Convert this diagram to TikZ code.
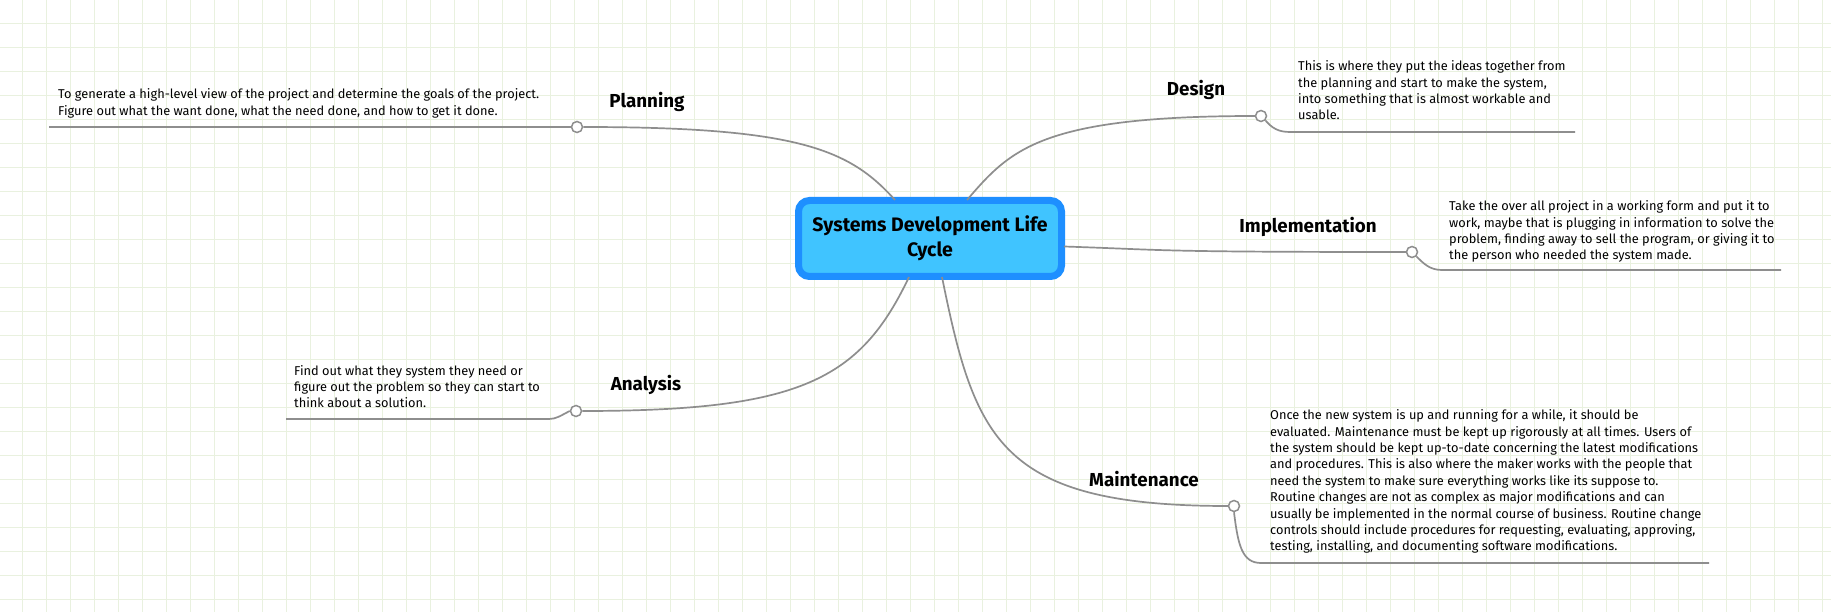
\documentclass[tikz,border=0pt]{standalone}
\usepackage{fontspec}
\setmainfont{Fira Sans}
\usetikzlibrary{calc}
\definecolor{linegray}{HTML}{8E8E8E}
\definecolor{gridc}{HTML}{E9F1DF}
\definecolor{bluedark}{HTML}{1E8FFF}
\definecolor{bluelight}{HTML}{40C4FF}
\begin{document}
\begin{tikzpicture}[x=1pt,y=-1pt,
  conn/.style={draw=linegray, line width=1.7pt},
  knob/.style={circle, draw=linegray, fill=white, line width=1.5pt, minimum size=11pt, inner sep=0pt},
  topic/.style={font=\fontsize{18.8}{22}\selectfont\bfseries, inner sep=0pt},
  note/.style={font=\fontsize{12.8}{16.4}\selectfont, align=left, inner sep=0pt, anchor=north west},
]
\useasboundingbox (0,0) rectangle (1831,612);
\fill[white] (0,0) rectangle (1831,612);
\foreach \i in {0,...,76} \draw[gridc, line width=1pt] ({22.7+24*\i},0) -- ++(0,612);
\foreach \j in {0,...,25} \draw[gridc, line width=1pt] (0,{23.3+24*\j}) -- ++(1831,0);

% central node
\node[draw=bluedark, line width=7pt, fill=bluelight, rounded corners=11pt,
      minimum width=263pt, minimum height=76pt, align=center, inner sep=0pt,
      font=\fontsize{19.5}{24.5}\selectfont\bfseries] (c) at (930,238.5)
      {Systems Development Life\\Cycle};

% knobs
\node[knob] (kp) at (577,127) {};
\node[knob] (kd) at (1261,116) {};
\node[knob] (ki) at (1412,252) {};
\node[knob] (ka) at (576,411) {};
\node[knob] (km) at (1234,506) {};

% topic labels
\node[topic] (tp) at (647,102) {Planning};
\node[topic] (td) at (1196,90) {Design};
\node[topic] (ti) at (1308,227) {Implementation};
\node[topic] (ta) at (646,385) {Analysis};
\node[topic] (tm) at (1144,479) {Maintenance};

% leaf ends
\coordinate (lp) at (49,127);
\coordinate (ld1) at (1290,132);
\coordinate (ld) at (1575,132);
\coordinate (li1) at (1442,270);
\coordinate (li) at (1781,270);
\coordinate (la1) at (549,419);
\coordinate (la) at (286,419);
\coordinate (lm1) at (1261,563);
\coordinate (lm) at (1709,563);

% trunk connectors
\draw[conn] ($(c.north)+(-35,3)$) .. controls (850,150) and (800,127) .. (kp.east);
\draw[conn] ($(c.north)+(37,3)$) .. controls (1010,150) and (1040,116) .. (kd.west);
\draw[conn] ($(c.east)+(-1,8)$) .. controls (1170,250) and (1150,252) .. (ki.west);
\draw[conn] ($(c.south)+(-21,-3)$) .. controls (860,380) and (800,411) .. (ka.east);
\draw[conn] ($(c.south)+(12,-3)$) .. controls (975,440) and (1000,506) .. (km.west);

% leaf connectors
\draw[conn] (kp.west) -- (lp);
\draw[conn] (kd.south east) .. controls (1272,128) and (1278,132) .. (ld1) -- (ld);
\draw[conn] (ki.south east) .. controls (1424,264) and (1430,270) .. (li1) -- (li);
\draw[conn] (ka.west) .. controls (560,416) and (556,419) .. (la1) -- (la);
\draw[conn] (km.south) .. controls (1238,545) and (1242,563) .. (lm1) -- (lm);

% notes
\node[note] (np) at (58,88.5) {To generate a high-level view of the project and determine the goals of the project.\\Figure out what the want done, what the need done, and how to get it done.};
\node[note] (nd) at (1298,60.5) {This is where they put the ideas together from\\the planning and start to make the system,\\into something that is almost workable and\\usable.};
\node[note] (ni) at (1449,200.5) {Take the over all project in a working form and put it to\\work, maybe that is plugging in information to solve the\\problem, finding away to sell the program, or giving it to\\the person who needed the system made.};
\node[note] (na) at (294,365) {Find out what they system they need or\\figure out the problem so they can start to\\think about a solution.};
\node[note] (nm) at (1270,409.5) {Once the new system is up and running for a while, it should be\\evaluated. Maintenance must be kept up rigorously at all times. Users of\\the system should be kept up-to-date concerning the latest modifications\\and procedures. This is also where the maker works with the people that\\need the system to make sure everything works like its suppose to.\\Routine changes are not as complex as major modifications and can\\usually be implemented in the normal course of business. Routine change\\controls should include procedures for requesting, evaluating, approving,\\testing, installing, and documenting software modifications.};
\end{tikzpicture}
\end{document}
